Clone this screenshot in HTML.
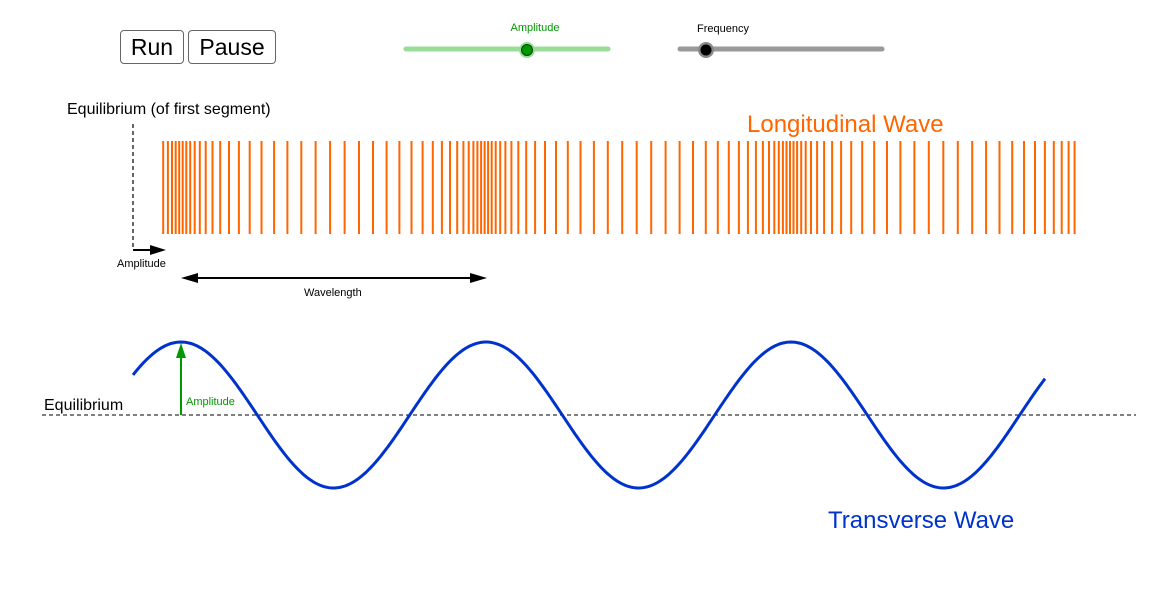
<!DOCTYPE html>
<html><head><style>
body{margin:0;background:#fff;width:1174px;height:591px;overflow:hidden;font-family:"Liberation Sans",sans-serif;}
.btn{position:absolute;top:30px;height:32px;border:1px solid #666;border-radius:4px;font-size:23px;line-height:32px;text-align:center;background:#fff;}
</style></head><body>
<div class="btn" style="left:120px;width:62px">Run</div>
<div class="btn" style="left:188px;width:86px">Pause</div>
<svg id="s" width="1174" height="591" style="position:absolute;left:0;top:0" font-family="Liberation Sans, sans-serif">
<line x1="406" y1="49" x2="608" y2="49" stroke="#99dd99" stroke-width="5" stroke-linecap="round"/>
<circle cx="527" cy="50" r="8" fill="#99dd99"/><circle cx="527" cy="50" r="5.5" fill="#009900" stroke="#004400" stroke-width="1"/>
<text x="535" y="31" font-size="11" fill="#009900" text-anchor="middle">Amplitude</text>
<line x1="680" y1="49" x2="882" y2="49" stroke="#999" stroke-width="5" stroke-linecap="round"/>
<circle cx="706" cy="50" r="8" fill="#888"/><circle cx="706" cy="50" r="5.5" fill="#000"/>
<text x="723" y="32" font-size="11" fill="#000" text-anchor="middle">Frequency</text>
<text x="67" y="114" font-size="16">Equilibrium (of first segment)</text>
<text x="747" y="132" font-size="24" fill="#ff6600">Longitudinal Wave</text>
<line x1="133" y1="124" x2="133" y2="250" stroke="#000" stroke-dasharray="4,3" stroke-width="1.2"/>
<line x1="133" y1="250" x2="152" y2="250" stroke="#000" stroke-width="2"/>
<polygon points="150,245 166,250 150,255" fill="#000"/>
<text x="117" y="267" font-size="11">Amplitude</text>
<line x1="190" y1="278" x2="478" y2="278" stroke="#000" stroke-width="2"/>
<polygon points="181,278 198,273 198,283" fill="#000"/>
<polygon points="487,278 470,273 470,283" fill="#000"/>
<text x="304" y="296" font-size="11">Wavelength</text>
<g id="lines" stroke="#ff6600" stroke-width="2"></g>
<line x1="42" y1="415" x2="1136" y2="415" stroke="#000" stroke-dasharray="4,3" stroke-width="1"/>
<text x="44" y="410" font-size="16">Equilibrium</text>
<path id="wave" fill="none" stroke="#0033cc" stroke-width="3"/>
<line x1="181" y1="415" x2="181" y2="356" stroke="#009900" stroke-width="2"/>
<polygon points="176,358 181,343 186,358" fill="#009900"/>
<text x="186" y="405" font-size="11" fill="#009900">Amplitude</text>
<text x="828" y="528" font-size="24" fill="#0033cc">Transverse Wave</text>
</svg>
<script>
var k=2*Math.PI/305,g=document.getElementById('lines'),h='';
for(var i=0;i<200;i++){var xe=133+i*9;var x=xe-30*Math.sin(k*(xe-180));if(x>1076)break;if(x<158)continue;h+='<line x1="'+x.toFixed(1)+'" y1="141" x2="'+x.toFixed(1)+'" y2="234"/>';}
g.innerHTML=h;
var d='';for(var x=133;x<=1046;x+=2){var y=415-73*Math.cos(k*(x-181));d+=(x==133?'M':'L')+x+' '+y.toFixed(1);}
document.getElementById('wave').setAttribute('d',d);
</script>
</body></html>
